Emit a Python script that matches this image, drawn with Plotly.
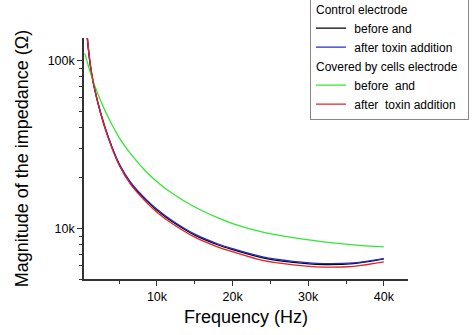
import plotly.graph_objects as go

freq = [450, 600, 800, 1200, 1600, 2500, 3600, 5000, 6500, 8600, 10000, 12000,
        15000, 18000, 20000, 24000, 28000, 32000, 36000, 40000]

control_before = [240000, 180000, 134500, 92900, 73000, 49600, 34600, 24100, 18650, 14650,
                  12850, 11000, 9120, 8000, 7480, 6680, 6280, 6100, 6180, 6590]
control_after = [240000, 180000, 134500, 92900, 73000, 49600, 34600, 24300, 18900, 14850,
                 13030, 11160, 9250, 8110, 7580, 6770, 6370, 6180, 6240, 6620]
cells_before = [110500, 105100, 97400, 84400, 74500, 58500, 45500, 34800, 27900, 21700,
                19000, 16200, 13420, 11600, 10700, 9510, 8810, 8330, 7990, 7770]
cells_after = [245000, 184000, 137300, 94200, 73500, 49600, 34200, 23800, 18350, 14300,
               12500, 10700, 8880, 7780, 7270, 6450, 6070, 5890, 5950, 6320]

x_tickvals = [10000, 20000, 30000, 40000]
x_ticktext = ["10k", "20k", "30k", "40k"]
y_tickvals = [10000, 100000]
y_ticktext = ["10k", "100k"]

FONT = "Liberation Sans, Arial, sans-serif"

fig = go.Figure()
series = [
    ("Control electrode", "g1", " before and", control_before, "#000000"),
    ("Control electrode", "g1", " after toxin addition", control_after, "#2a2ad0"),
    ("Covered by cells electrode", "g2", " before  and", cells_before, "#33e633"),
    ("Covered by cells electrode", "g2", " after  toxin addition", cells_after, "#e82020"),
]
for gtitle, grp, name, vals, col in series:
    fig.add_trace(go.Scatter(
        x=freq, y=vals, mode="lines", name=name,
        line=dict(color=col, width=1.3, shape="spline"),
        legendgroup=grp, legendgrouptitle_text=gtitle,
    ))

axis_col = "#333333"
fig.update_layout(
    width=474, height=335,
    margin=dict(l=84, r=66, t=38, b=56, autoexpand=False),
    paper_bgcolor="white", plot_bgcolor="white",
    font=dict(family=FONT, size=12, color="black"),
    showlegend=True,
    legend=dict(
        x=0.6975, y=1.184, xanchor="left", yanchor="top",
        bgcolor="white", bordercolor="#888888", borderwidth=1,
        font=dict(family=FONT, size=12, color="black"),
        grouptitlefont=dict(family=FONT, size=12, color="black"),
        tracegroupgap=0, traceorder="grouped", itemwidth=30,
    ),
    xaxis=dict(
        range=[350, 43200], showgrid=False, zeroline=False,
        showline=True, linecolor=axis_col, linewidth=1.5,
        ticks="outside", ticklen=5, tickcolor=axis_col, tickwidth=1.2,
        tickvals=x_tickvals, ticktext=x_ticktext,
        tickfont=dict(family=FONT, size=12.5),
        minor=dict(ticks="outside", ticklen=3, dtick=5000, tick0=0,
                   tickcolor=axis_col, tickwidth=1.2),
        title=dict(text="Frequency (Hz)", font=dict(family=FONT, size=18), standoff=8),
    ),
    yaxis=dict(
        type="log", range=[3.699, 5.135], showgrid=False, zeroline=False,
        showline=True, linecolor=axis_col, linewidth=1.5,
        ticks="outside", ticklen=5, tickcolor=axis_col, tickwidth=1.2,
        tickvals=y_tickvals, ticktext=y_ticktext,
        tickfont=dict(family=FONT, size=12.5),
        minor=dict(ticks="outside", ticklen=3, dtick="D1",
                   tickcolor=axis_col, tickwidth=1.2),
        title=dict(text="Magnitude of the impedance (Ω)", font=dict(family=FONT, size=18),
                   standoff=14),
    ),
)

fig.write_html("out.html")
